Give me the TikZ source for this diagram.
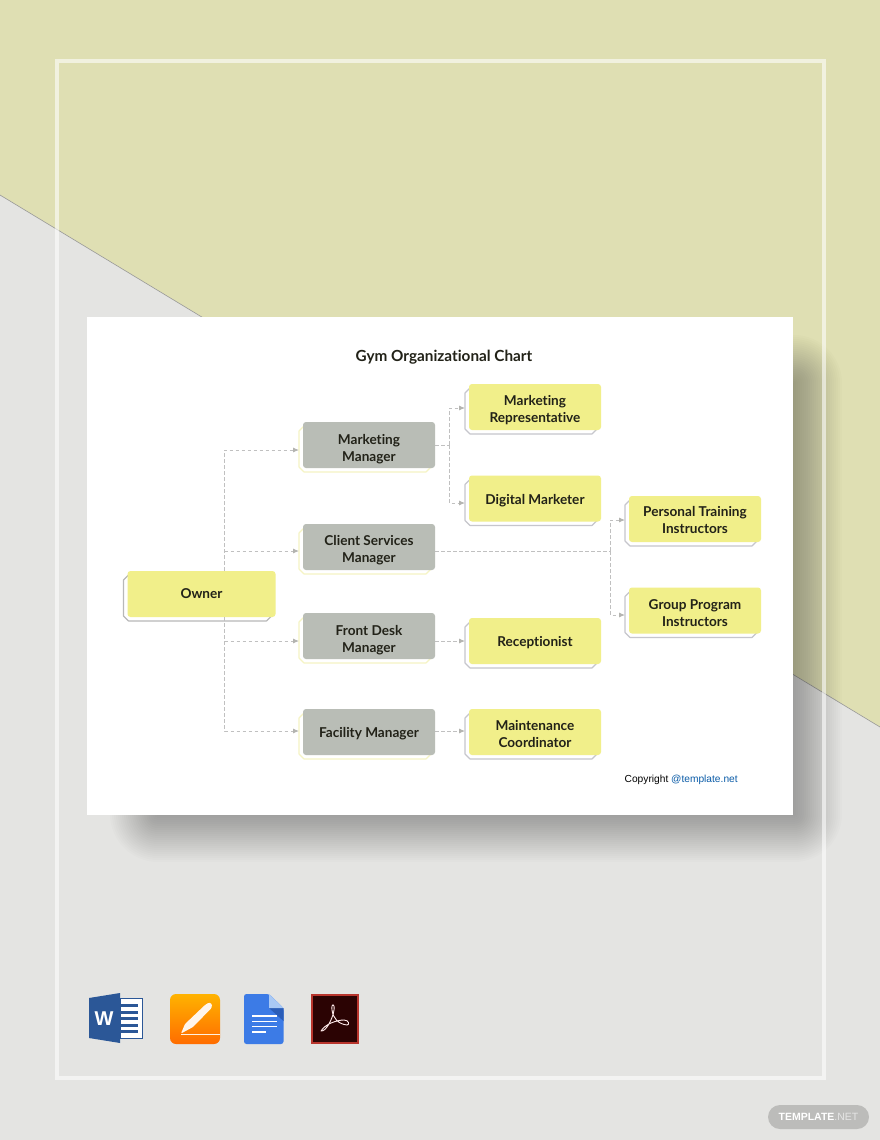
\documentclass[tikz,border=0pt]{standalone}
\usepackage{fontspec}
\setmainfont{Lato}[Ligatures=NoCommon]
\newfontfamily\copyfont{Liberation Sans}
\usetikzlibrary{arrows.meta}
\definecolor{bgyellow}{HTML}{DFDFB3}
\definecolor{bggrey}{HTML}{E4E4E2}
\definecolor{boxyellow}{HTML}{F1EF8A}
\definecolor{boxgrey}{HTML}{B9BDB6}
\definecolor{edgegrey}{HTML}{C6C6CC}
\definecolor{edgeyellow}{HTML}{F5F4C4}
\definecolor{edgeowner}{HTML}{B8B8B8}
\definecolor{linkgrey}{HTML}{C0C0C0}
\definecolor{headgrey}{HTML}{B4B4B0}
\definecolor{inkdark}{HTML}{222218}
\definecolor{wordblue}{HTML}{2B5797}
\definecolor{docsblue}{HTML}{3C7BE6}
\definecolor{docsfold}{HTML}{A9C9F5}
\definecolor{docsshade}{HTML}{2A5DB8}
\definecolor{pdfred}{HTML}{B8352D}
\definecolor{pdfdark}{HTML}{2B0303}
\definecolor{badgegrey}{HTML}{BCBCBA}
\tikzset{
  frontbox/.style={rectangle,rounded corners=3pt,inner sep=0pt,outer sep=0pt,minimum height=46pt,align=center,text=inkdark,
    font=\fontsize{13.6}{17}\selectfont\bfseries,
    execute at begin node={\rule{0pt}{17pt}},execute at end node={\rule[-5.1pt]{0pt}{0pt}}},
  backbox/.style={rectangle,inner sep=0pt,outer sep=0pt,minimum height=46pt},
  backline/.style={fill=white,line width=1.1pt,line join=round},
  link/.style={draw=linkgrey,line width=.9pt,dash pattern=on 3.6pt off 2.4pt},
  linkarrow/.style={link,-{Latex[length=6pt,width=5pt,fill=headgrey,color=headgrey]}},
  cardtitle/.style={font=\fontsize{15.3}{18}\selectfont\bfseries,text=inkdark,inner sep=0pt},
  copytext/.style={font=\copyfont\fontsize{10.2}{12}\selectfont,text=black,inner sep=0pt},
  iconline/.style={draw=white,line width=1.5pt},
}
% name, centre x, centre y, width, front colour, back colour, text
\newcommand{\chartbox}[7]{%
  \node[backbox,minimum width=#4pt] (#1back) at ({#2-4},{#3+4}) {};
  \draw[backline,draw=#6] ([xshift=5pt]#1back.north west) -- ([xshift=-5pt]#1back.north east)
    -- ([yshift=-5pt]#1back.north east) -- ([yshift=5pt]#1back.south east)
    -- ([xshift=-5pt]#1back.south east) -- ([xshift=5pt]#1back.south west)
    -- ([yshift=5pt]#1back.south west) -- ([yshift=-5pt]#1back.north west) -- cycle;
  \node[frontbox,fill=#5,minimum width=#4pt] (#1) at (#2,#3) {#7};
}
% top strut height, first line, second line
\newcommand{\twolines}[3]{\rule{0pt}{#1pt}#2\\#3}
\begin{document}
\begin{tikzpicture}[x=1pt,y=-1pt]
\useasboundingbox (0,0) rectangle (880,1140);
% background
\fill[bggrey] (0,0) rectangle (880,1140);
\fill[bgyellow] (0,0) -- (880,0) -- (880,727) -- (0,195) -- cycle;
\draw[gray!80,line width=.6pt] (0,195) -- (880,727);
% soft shadow
\foreach \i in {0,2,...,48}{
  \fill[black,opacity=.0125,rounded corners=\i pt] ({158-\i},{383-\i}) rectangle ({794+\i},{814+\i});
}
% card
\fill[white] (87,317) rectangle (793,815);
\node[cardtitle] (title) at (444,356.5) {\rule{0pt}{13pt}Gym Organizational Chart};
% boxes
\chartbox{owner}{201.5}{594}{148}{boxyellow}{edgeowner}{\raisebox{1pt}{Owner}}
\chartbox{mm}{369}{445}{132}{boxgrey}{edgeyellow}{\twolines{20.7}{Marketing}{Manager}}
\chartbox{cs}{369}{547}{132}{boxgrey}{edgeyellow}{\twolines{19.7}{Client Services}{Manager}}
\chartbox{fd}{369}{636}{132}{boxgrey}{edgeyellow}{\twolines{21.7}{Front Desk}{Manager}}
\chartbox{fm}{369}{732}{132}{boxgrey}{edgeyellow}{Facility Manager}
\chartbox{rep}{535}{407}{132}{boxyellow}{edgegrey}{\twolines{19.7}{Marketing}{Representative}}
\chartbox{dig}{535}{498.5}{132}{boxyellow}{edgegrey}{Digital Marketer}
\chartbox{rec}{535}{641}{132}{boxyellow}{edgegrey}{Receptionist}
\chartbox{mc}{535}{732}{132}{boxyellow}{edgegrey}{\twolines{19.7}{Maintenance}{Coordinator}}
\chartbox{pt}{695}{519}{132}{boxyellow}{edgegrey}{\twolines{18}{Personal Training}{Instructors}}
\chartbox{gp}{695}{610.5}{132}{boxyellow}{edgegrey}{\twolines{20.5}{Group Program}{Instructors}}
% connector anchors
\coordinate (mmin) at (299,450);
\coordinate (csin) at (299,551);
\coordinate (fdin) at (299,641);
\coordinate (fmin) at (299,731);
\coordinate (repin) at (465,408);
\coordinate (digin) at (465,503);
\coordinate (recin) at (465,641);
\coordinate (mcin) at (465,731);
\coordinate (ptin) at (625,520);
\coordinate (gpin) at (625,615);
\coordinate (trunkA) at (224.5,594);
\coordinate (trunkB) at (449.5,445);
\coordinate (trunkC) at (610.5,551);
% connectors
\draw[linkarrow] (owner.north -| trunkA) |- (mmin);
\draw[linkarrow] (owner.north -| trunkA) ++(0,-20) |- (csin);
\draw[linkarrow] (owner.south -| trunkA) |- (fdin);
\draw[linkarrow] (owner.south -| trunkA) |- (fmin);
\draw[link] (mm.east) -- (trunkB);
\draw[linkarrow] (trunkB) |- (repin);
\draw[linkarrow] (trunkB) |- (digin);
\draw[link] (cs.east |- trunkC) -- (trunkC);
\draw[linkarrow] (trunkC) |- (ptin);
\draw[linkarrow] (trunkC) |- (gpin);
\draw[linkarrow] (fd.east |- recin) -- (recin);
\draw[linkarrow] (fm.east |- mcin) -- (mcin);
% copyright
\node[copytext,anchor=west] (copy) at (624.5,779.5) {Copyright \textcolor[HTML]{0B5CA8}{@template.net}};
% outer frame
\draw[white,opacity=.58,line width=3.6pt] (56.8,61) rectangle (824,1078);
% word icon
\fill[white] (120,998) rectangle (142,1038);
\draw[wordblue,line width=1pt] (120,998) rectangle (142,1038);
\foreach \yy in {1004,1010.5,1017,1023.5,1030}{\fill[wordblue] (120,\yy) rectangle (137.5,{\yy+3});}
\fill[wordblue] (89,998) -- (120,993) -- (120,1043) -- (89,1038) -- cycle;
\node[text=white,font=\copyfont\fontsize{20}{20}\selectfont\bfseries,inner sep=0pt] (wordw) at (104,1018.5) {W};
% pages icon
\shade[top color=orange!60!yellow,bottom color=orange!85!red,rounded corners=6pt] (170,994) rectangle (220,1044);
\draw[white!88!orange,line width=1.3pt] (181,1034.5) -- (220,1034.5);
\fill[white!92!orange,rounded corners=1pt] (181,1033.5) -- (185,1024) -- (205,1005) -- (209,1002.5) -- (212,1004) -- (211.5,1008) -- (193,1027) -- cycle;
% docs icon
\fill[docsblue,rounded corners=2.5pt] (244,994) -- (269,994) -- (283.5,1008) -- (283.5,1044) -- (244,1044) -- cycle;
\fill[docsshade] (269,1008) -- (283.5,1008) -- (283.5,1021) -- cycle;
\fill[docsfold] (269,994) -- (283.5,1008) -- (269,1008) -- cycle;
\foreach \yy in {1016,1021.3,1026.6}{\draw[iconline] (252,\yy) -- (277,\yy);}
\draw[iconline] (252,1032) -- (266,1032);
% pdf icon
\fill[pdfdark,draw=pdfred,line width=2.4pt] (312,995) rectangle (358,1043);
\draw[white!92!red,line width=.9pt,line join=round] (321,1031) .. controls (326,1032) and (333,1018) .. (334,1010)
  .. controls (335,1003) and (331,1003) .. (332,1010) .. controls (333,1018) and (338,1024) .. (347,1025)
  .. controls (350,1025) and (349,1020) .. (344,1020) .. controls (337,1020) and (325,1024) .. (321,1031) -- cycle;
% badge
\fill[badgegrey,rounded corners=12pt] (768,1105) rectangle (869,1129);
\node[text=white,font=\copyfont\fontsize{10.5}{12}\selectfont\bfseries,inner sep=0pt] (badge) at (818.5,1117) {TEMPLATE{\mdseries\textcolor{white!80!gray}{.NET}}};
\end{tikzpicture}
\end{document}
